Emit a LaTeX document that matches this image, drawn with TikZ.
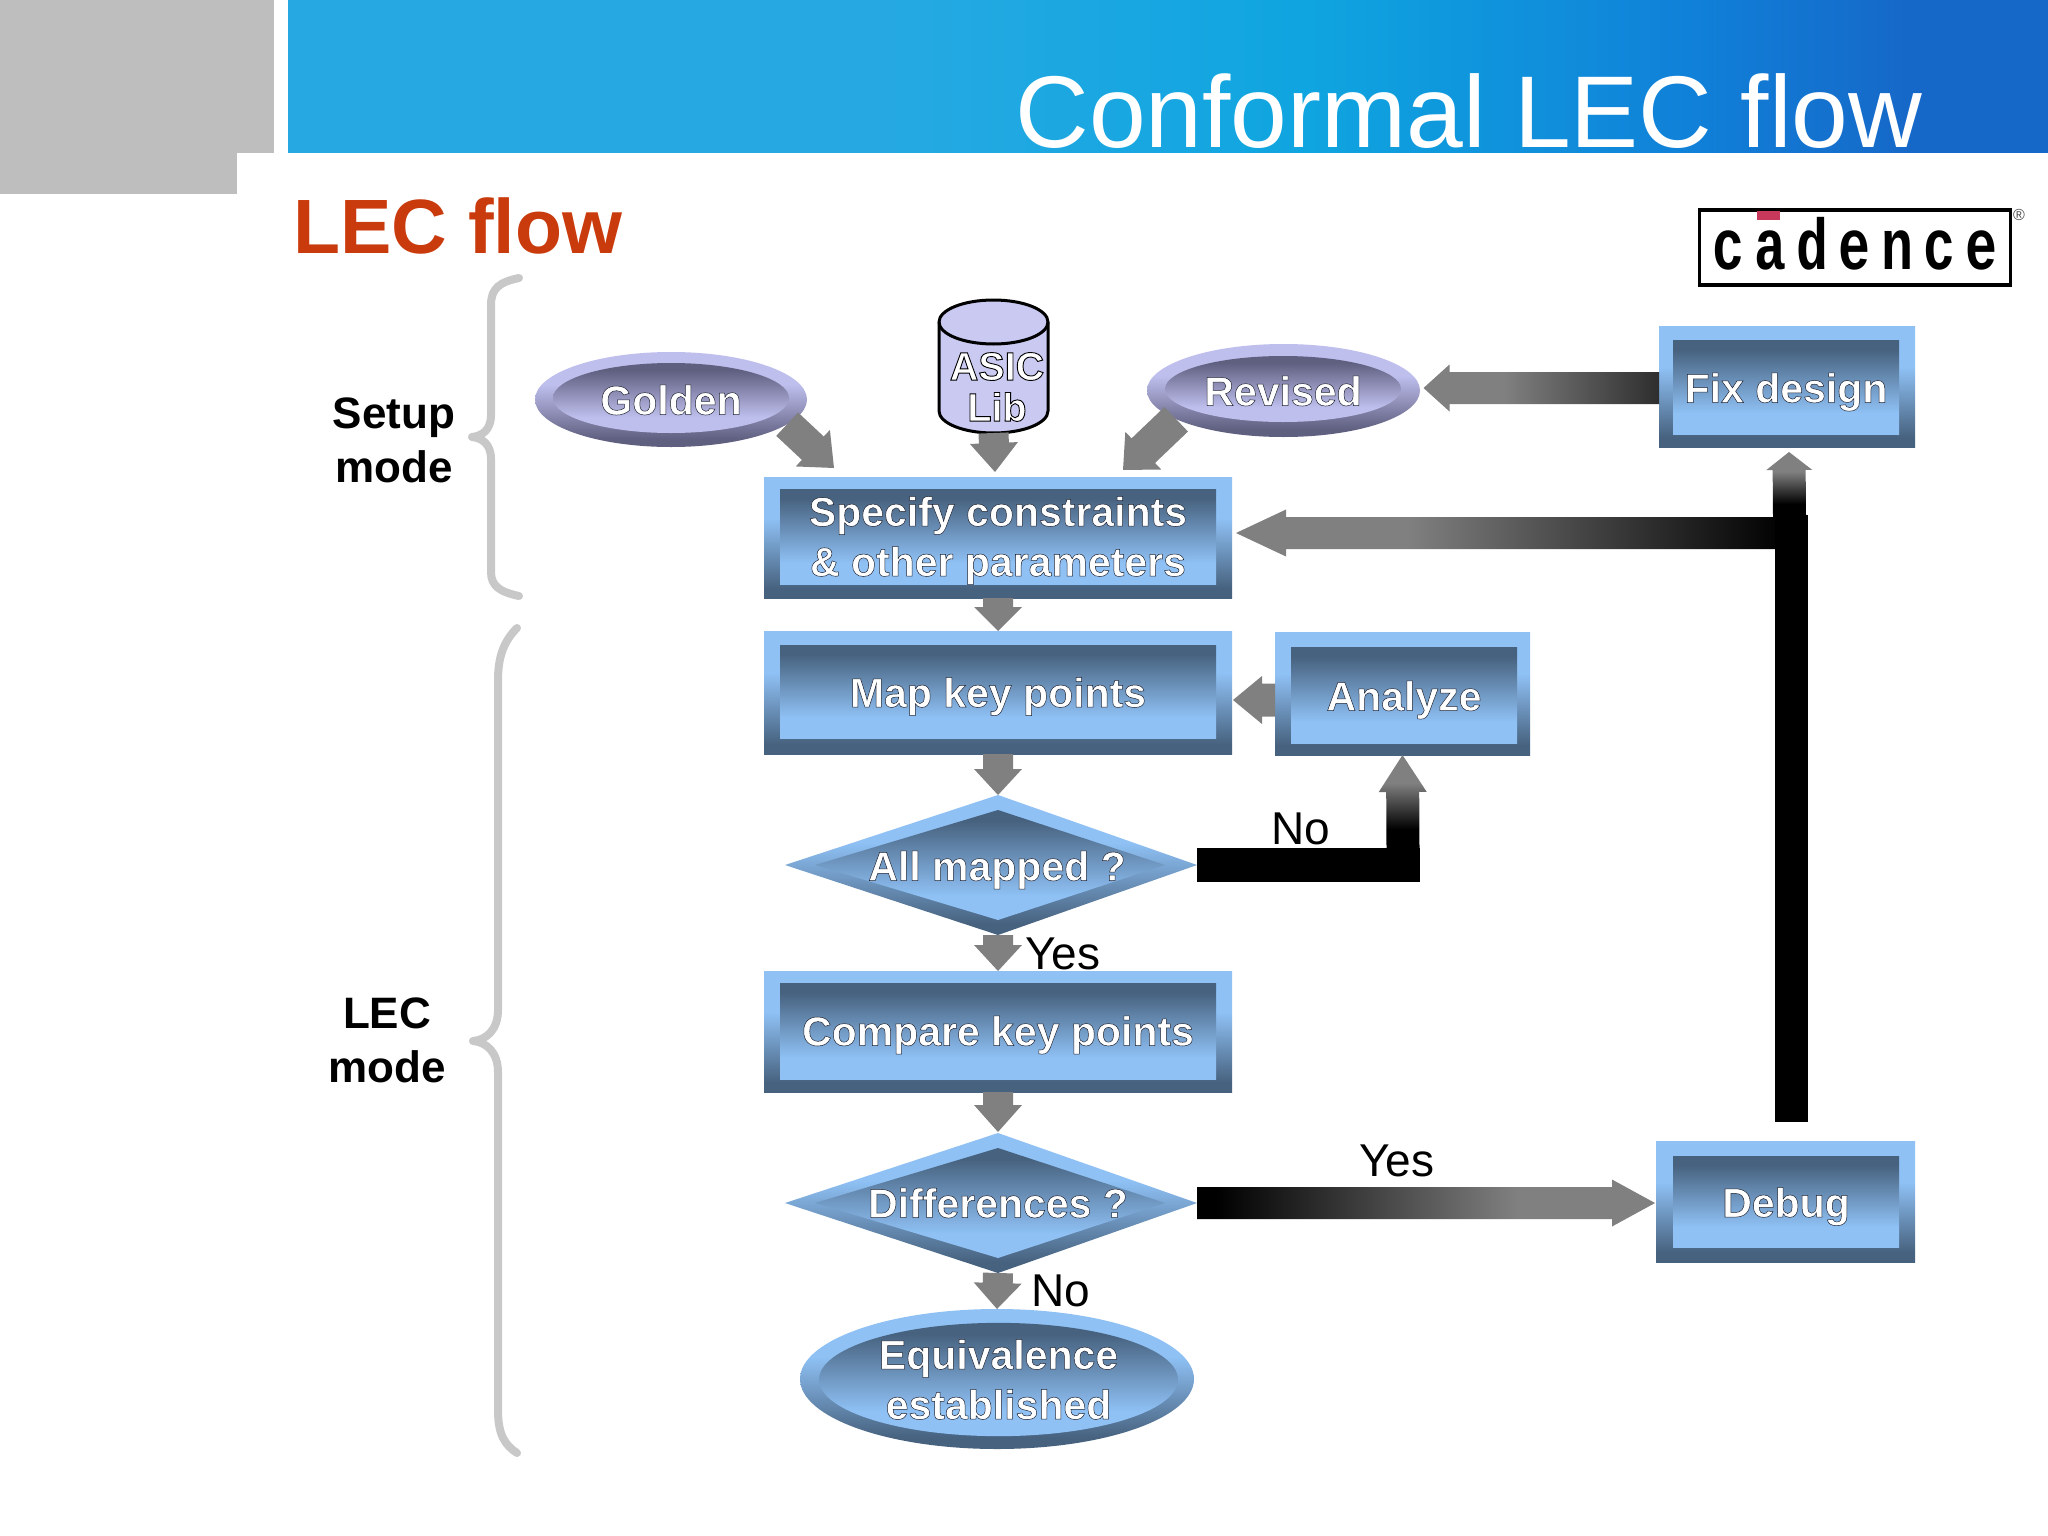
\documentclass[tikz,border=0pt]{standalone}
\usepackage{fontspec}
\setmainfont{Liberation Sans}
\newfontfamily\logof{Liberation Mono}[FakeStretch=0.74,LetterSpace=14]
\usetikzlibrary{calc,shapes.geometric}
\definecolor{bl}{HTML}{8FC1F5}
\definecolor{bd}{HTML}{47627F}
\definecolor{pl}{HTML}{BFBFEE}
\definecolor{pd}{HTML}{5F5F80}
\definecolor{ag}{HTML}{808080}
\definecolor{ak}{HTML}{2E2E2E}
\definecolor{brc}{HTML}{C8C8C8}
\definecolor{grb}{HTML}{BEBEBE}
\definecolor{ttl}{HTML}{C93A0C}
\definecolor{redm}{HTML}{C8385A}
\definecolor{hdrA}{HTML}{26A9E2}
\definecolor{hdrB}{HTML}{0FA5E0}
\definecolor{hdrC}{HTML}{1080D8}
\definecolor{hdrD}{HTML}{1668C8}
\pgfdeclarehorizontalshading{hdr}{100bp}{color(0bp)=(hdrA); color(42bp)=(hdrA); color(54bp)=(hdrB); color(65bp)=(hdrC); color(71bp)=(hdrD); color(100bp)=(hdrD)}
\pgfdeclareverticalshading{bluo}{100bp}{color(0bp)=(bd); color(29bp)=(bd); color(58bp)=(bl); color(100bp)=(bl)}
\pgfdeclareverticalshading{blui}{100bp}{color(0bp)=(bl); color(36bp)=(bl); color(70bp)=(bd); color(100bp)=(bd)}
\pgfdeclareverticalshading{puro}{100bp}{color(0bp)=(pd); color(29bp)=(pd); color(58bp)=(pl); color(100bp)=(pl)}
\pgfdeclareverticalshading{puri}{100bp}{color(0bp)=(pl); color(36bp)=(pl); color(70bp)=(pd); color(100bp)=(pd)}
\pgfdeclarehorizontalshading{fadeR}{100bp}{color(0bp)=(ag); color(40bp)=(ag); color(73bp)=(black); color(100bp)=(black)}
\pgfdeclarehorizontalshading{fadeS}{100bp}{color(0bp)=(ag); color(42bp)=(ag); color(75bp)=(ak); color(100bp)=(ak)}
\pgfdeclarehorizontalshading{fadeL}{100bp}{color(0bp)=(black); color(27bp)=(black); color(60bp)=(ag); color(100bp)=(ag)}
\pgfdeclareverticalshading{fadeD}{100bp}{color(0bp)=(black); color(35bp)=(black); color(60bp)=(ag); color(100bp)=(ag)}
% white text with a dark edge
\newcommand{\wt}[1]{\special{pdf:code 2 Tr 0.5 w 0.12 0.14 0.2 RG}#1\special{pdf:code 0 Tr 0 0 0 RG}}
\newcommand{\wtk}[1]{\special{pdf:code 2 Tr 0.9 w 0 0 0 RG}#1\special{pdf:code 0 Tr 0 0 0 RG}}
\newcommand{\dn}[2]{\raisebox{-#1pt}[\height][\depth]{\wt{#2}}}
% block arrow: [style]{start}{tip}{half width}{half head width}{head length}
\newcommand{\blockarrow}[6][]{%
  \coordinate (ba-s) at (#2); \coordinate (ba-e) at (#3);
  \coordinate (ba-n) at ($(ba-e)!#6!(ba-s)$);
  \path[#1] ($(ba-s)!#4!90:(ba-e)$) -- ($(ba-n)!#4!-90:(ba-s)$) -- ($(ba-n)!#5!-90:(ba-s)$)
    -- (ba-e) -- ($(ba-n)!#5!90:(ba-s)$) -- ($(ba-n)!#4!90:(ba-s)$)
    -- ($(ba-s)!#4!-90:(ba-e)$) -- cycle;}
% bevelled decision: {name}{apex x}{centre y}
\newcommand{\decision}[3]{%
  \coordinate (#1-t) at (#2,#3-70); \coordinate (#1-b) at (#2,#3+70);
  \coordinate (#1-l) at (#2-213,#3); \coordinate (#1-r) at (#2+199,#3);
  \shade[shading=bluo] (#1-t) -- (#1-r) -- (#1-b) -- (#1-l) -- cycle;
  \shade[shading=blui] (#2,#3-55) -- (#2+167,#3) -- (#2,#3+55) -- (#2-183,#3) -- cycle;}
\tikzset{
  every node/.style={inner sep=0pt,outer sep=0pt},
  oo/.style={shading=bluo,shade},
  ii/.style={shade,shading=blui,text=white,align=center,
    font=\fontsize{41}{50}\selectfont\bfseries},
  po/.style={ellipse,shade,shading=puro},
  pi/.style={ellipse,shade,shading=puri,text=white,align=center,
    font=\fontsize{41}{50}\selectfont\bfseries},
  plain/.style={text=black,font=\fontsize{46}{54}\selectfont,align=center},
  brace/.style={draw=brc,line width=8pt,line cap=round,line join=round},
  ga/.style={fill=ag},
}
\begin{document}
\begin{tikzpicture}[x=1pt,y=-1pt]
\useasboundingbox (0,0) rectangle (2048,1536);
\fill[white] (0,0) rectangle (2048,1536);
% header
\fill[grb] (0,0) rectangle (274,153);
\fill[grb] (0,153) rectangle (237,194);
\shade[shading=hdr] (288,0) rectangle (2048,153);
\node[anchor=base,text=white,font=\fontsize{102}{110}\selectfont] (title) at (1469,148) {Conformal LEC flow};
\node[anchor=base west,text=ttl,font=\fontsize{77}{80}\selectfont\bfseries] (sub) at (293,253) {LEC flow};
% cadence logo
\node[draw=black,line width=3.5pt,minimum width=311,minimum height=75,text=black,
  font=\fontsize{72}{72}\logof\bfseries] (logo) at (1855,247.5) {\raisebox{4pt}[\height][\depth]{cadence}};
\fill[redm] (1757,211) rectangle (1780,220);
\node[text=black!70,font=\fontsize{16}{16}\selectfont] (reg) at (2019,215) {®};
% braces
\draw[brace] (519,278) .. controls (500,282) and (491,288) .. (491,305) -- (491,415)
  .. controls (491,430) and (482,436) .. (472,437) .. controls (482,438) and (491,444) .. (491,459)
  -- (491,572) .. controls (491,586) and (500,592) .. (519,596);
\draw[brace] (517,628) .. controls (505,640) and (498,655) .. (498,680) -- (498,1010)
  .. controls (498,1030) and (486,1040) .. (473,1041) .. controls (486,1042) and (498,1052) .. (498,1072)
  -- (498,1410) .. controls (498,1435) and (505,1445) .. (517,1453);
\node[plain,font=\fontsize{44}{54}\selectfont\bfseries] (setup) at (394,440) {Setup\\mode};
\node[plain,font=\fontsize{44}{54}\selectfont\bfseries] (lecm) at (387,1040) {LEC\\mode};
% sources
\node[po,minimum width=272,minimum height=95] (golden-o) at (671,399.5) {};
\node[pi,minimum width=236,minimum height=70] (golden) at (671,398) {\dn{2}{Golden}};
\node[po,minimum width=273,minimum height=93] (revised-o) at (1283.5,390.5) {};
\node[pi,minimum width=236,minimum height=66] (revised) at (1283,389) {\dn{2}{Revised}};
\node[minimum width=109,minimum height=133] (asic-b) at (993.5,366.5) {};
\draw[black,line width=3pt,fill=pl!85!white] (asic-b.north west) ++(0,22)
  arc[start angle=180,end angle=0,x radius=54.5pt,y radius=22pt]
  -- ++(0,89) arc[start angle=0,end angle=-180,x radius=54.5pt,y radius=22pt] -- cycle;
\draw[black,line width=3pt] (asic-b.north west) ++(0,22)
  arc[start angle=180,end angle=360,x radius=54.5pt,y radius=22pt];
\node[text=white,align=center,font=\fontsize{39.5}{41}\selectfont\bfseries] (asic) at (997,387) {\wtk{ASIC}\\\wtk{Lib}};
% boxes
\node[oo,minimum width=468,minimum height=121] (spec-o) at (998,537.5) {};
\node[ii,minimum width=436,minimum height=95] (spec) at (998,536.5) {\dn{4}{Specify constraints}\\\dn{4}{\&\ other parameters}};
\node[oo,minimum width=468,minimum height=123] (map-o) at (998,692.5) {};
\node[ii,minimum width=436,minimum height=93] (map) at (998,691.5) {\dn{5}{Map key points}};
\node[oo,minimum width=255,minimum height=123] (ana-o) at (1402.5,693.5) {};
\node[ii,minimum width=226,minimum height=96] (ana) at (1404,695) {\dn{5}{Analyze}};
\node[oo,minimum width=256,minimum height=121] (fix-o) at (1787,386.5) {};
\node[ii,minimum width=226,minimum height=94] (fix) at (1786,387) {\dn{5}{Fix design}};
\node[oo,minimum width=468,minimum height=121] (cmp-o) at (998,1031.5) {};
\node[ii,minimum width=436,minimum height=96] (cmp) at (998,1031) {\dn{4}{Compare key points}};
\node[oo,minimum width=259,minimum height=121] (dbg-o) at (1785.5,1201.5) {};
\node[ii,minimum width=226,minimum height=91] (dbg) at (1786,1201.5) {\dn{5}{Debug}};
% decisions
\decision{all-o}{998}{865}
\node[text=white,font=\fontsize{41}{50}\selectfont\bfseries] (all) at (997,870) {\wt{All mapped ?}};
\decision{dif-o}{998}{1203}
\node[text=white,font=\fontsize{41}{50}\selectfont\bfseries] (dif) at (998,1203) {\wt{Differences ?}};
% end
\node[ellipse,oo,minimum width=394,minimum height=140] (eqv-o) at (997,1379) {};
\node[ellipse,ii,minimum width=359,minimum height=107] (eqv) at (998.5,1379.5) {\wt{Equivalence}\\\wt{established}};
% connectors
\blockarrow[ga]{golden-o.-12}{$(spec-o.north)+(-164,-9)$}{16pt}{25pt}{29pt}
\blockarrow[ga]{revised-o.195}{$(spec-o.north)+(125,-7)$}{17pt}{26pt}{28pt}
\blockarrow[ga]{asic-b.south}{$(spec-o.north)+(-3,-5)$}{15pt}{24pt}{29pt}
\blockarrow[ga]{spec-o.south}{map-o.north}{15pt}{24pt}{24pt}
\blockarrow[ga]{map-o.south}{all-o-t}{15pt}{24pt}{26pt}
\blockarrow[ga]{all-o-b}{cmp-o.north}{15pt}{24pt}{26pt}
\blockarrow[ga]{cmp-o.south}{$(dif-o-t)+(0,-1)$}{15pt}{24pt}{27pt}
\blockarrow[ga]{dif-o-b}{eqv-o.north}{15pt}{24pt}{26pt}
\blockarrow[ga]{$(ana-o.west)+(0,6.5)$}{$(map-o.east)+(1,7.5)$}{16.5pt}{24pt}{29pt}
\blockarrow[shade,shading=fadeS]{$(fix-o.west)+(0,1.5)$}{$(revised-o.east)+(3.5,-2.5)$}{16pt}{23.5pt}{26pt}
\coordinate (jn) at ($(dbg-o.north)+(6,-626)$);
\coordinate (bar) at ($(dbg-o.north)+(6,-19)$);
\blockarrow[shade,shading=fadeR]{$(jn)+(16,18)$}{$(spec-o.east)+(4,-4.5)$}{16pt}{23.5pt}{50pt}
\blockarrow[shade,shading=fadeD]{$(jn)+(-2,2)$}{$(fix-o.south)+(2,5)$}{16.5pt}{23pt}{18pt}
\draw[black,line width=33pt] (bar) -- (jn);
\coordinate (nc) at ($(all-o-r)+(206,0)$);
\draw[black,line width=34pt] (all-o-r) -- ($(all-o-r)+(223,0)$);
\blockarrow[shade,shading=fadeD]{$(nc)+(0,-17)$}{ana-o.south}{16.5pt}{24pt}{37pt}
\blockarrow[shade,shading=fadeL]{dif-o-r}{$(dbg-o.west)+(-1,1.5)$}{16pt}{23.5pt}{43pt}
% labels
\node[plain,anchor=base] (no1) at (1301,844) {No};
\node[plain,anchor=base] (yes1) at (1063,969) {Yes};
\node[plain,anchor=base] (yes2) at (1397,1176) {Yes};
\node[plain,anchor=base] (no2) at (1061,1306) {No};
\end{tikzpicture}
\end{document}
